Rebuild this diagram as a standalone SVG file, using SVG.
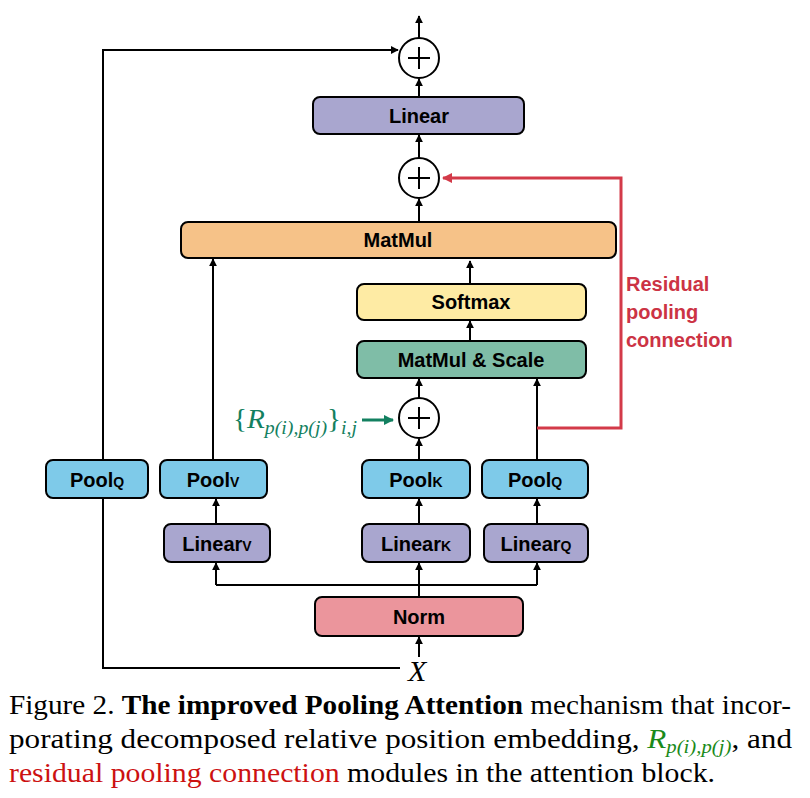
<svg xmlns="http://www.w3.org/2000/svg" width="810" height="798" viewBox="0 0 810 798">
<style>
.b{stroke:#000;stroke-width:2}
.t{font-family:"Liberation Sans",Arial,sans-serif;font-weight:bold;font-size:20px;text-anchor:middle}
.s{font-size:14px}
.l{stroke:#000;stroke-width:2;fill:none}
.c{fill:#fff;stroke:#000;stroke-width:2}
</style>
<defs>
<marker id="a" viewBox="0 0 10 10" refX="9" refY="5" markerWidth="4" markerHeight="4" orient="auto"><path d="M0,0L10,5L0,10z" fill="#000"/></marker>
<marker id="r" viewBox="0 0 10 10" refX="9" refY="5" markerWidth="3.5" markerHeight="3.5" orient="auto"><path d="M0,0L10,5L0,10z" fill="#d33a49"/></marker>
<marker id="g" viewBox="0 0 10 10" refX="9" refY="5" markerWidth="3.5" markerHeight="3.5" orient="auto"><path d="M0,0L10,5L0,10z" fill="#138060"/></marker>
</defs>
<g id="connectors">
<path class="l" d="M419,38V16" marker-end="url(#a)"/>
<path class="l" d="M419,97V79" marker-end="url(#a)"/>
<path class="l" d="M419,158V135" marker-end="url(#a)"/>
<path class="l" d="M419,222V199" marker-end="url(#a)"/>
<path class="l" d="M470,284V261" marker-end="url(#a)"/>
<path class="l" d="M470,341V321" marker-end="url(#a)"/>
<path class="l" d="M419,398V379" marker-end="url(#a)"/>
<path class="l" d="M419,460V439" marker-end="url(#a)"/>
<path class="l" d="M537,460V379" marker-end="url(#a)"/>
<path class="l" d="M213,460V259" marker-end="url(#a)"/>
<path class="l" d="M216,524V499" marker-end="url(#a)"/>
<path class="l" d="M419,524V499" marker-end="url(#a)"/>
<path class="l" d="M537,524V499" marker-end="url(#a)"/>
<path class="l" d="M419,597V585M216,585H537"/>
<path class="l" d="M216,585V563" marker-end="url(#a)"/>
<path class="l" d="M419,585V563" marker-end="url(#a)"/>
<path class="l" d="M537,585V563" marker-end="url(#a)"/>
<path class="l" d="M419,657V637" marker-end="url(#a)"/>
<path class="l" d="M400,668H103V498M103,460V50H398" marker-end="url(#a)"/>
<path d="M537,428H621V178H443" fill="none" stroke="#d33a49" stroke-width="3" marker-end="url(#r)"/>
<path d="M362,420H393" fill="none" stroke="#138060" stroke-width="3" marker-end="url(#g)"/>
</g>
<g id="sum1"><circle class="c" cx="419" cy="58" r="20"/><path class="l" d="M408,58H430M419,47V69"/></g>
<g id="linear"><rect class="b" x="313" y="97" width="211" height="37" rx="7" fill="#a9a6cf"/><text class="t" x="419" y="123">Linear</text></g>
<g id="sum2"><circle class="c" cx="419" cy="178" r="20"/><path class="l" d="M408,178H430M419,167V189"/></g>
<g id="matmul"><rect class="b" x="181" y="222" width="435" height="36" rx="7" fill="#f6c288"/><text class="t" x="398" y="247">MatMul</text></g>
<g id="softmax"><rect class="b" x="357" y="284" width="229" height="36" rx="7" fill="#feeba4"/><text class="t" x="471" y="309">Softmax</text></g>
<g id="mmscale"><rect class="b" x="357" y="341" width="229" height="37" rx="7" fill="#7fbda7"/><text class="t" x="471" y="367">MatMul &amp; Scale</text></g>
<g id="sum3"><circle class="c" cx="419" cy="418" r="20"/><path class="l" d="M408,418H430M419,407V429"/></g>
<g id="relpos"><text x="233" y="428" fill="#138060" font-family="Liberation Serif,serif" font-size="28" textLength="124" lengthAdjust="spacingAndGlyphs">{<tspan font-style="italic">R</tspan><tspan font-style="italic" font-size="19" dy="6">p(i),p(j)</tspan><tspan dy="-6">}</tspan><tspan font-style="italic" font-size="19" dy="6">i,j</tspan></text></g>
<g id="poolq1"><rect class="b" x="46" y="460" width="102" height="38" rx="7" fill="#7ecae9"/><text class="t" x="97" y="487">Pool<tspan class="s">Q</tspan></text></g>
<g id="poolv"><rect class="b" x="160" y="460" width="107" height="38" rx="7" fill="#7ecae9"/><text class="t" x="213" y="487">Pool<tspan class="s">V</tspan></text></g>
<g id="poolk"><rect class="b" x="362" y="460" width="108" height="38" rx="7" fill="#7ecae9"/><text class="t" x="416" y="487">Pool<tspan class="s">K</tspan></text></g>
<g id="poolq2"><rect class="b" x="482" y="460" width="106" height="38" rx="7" fill="#7ecae9"/><text class="t" x="535" y="487">Pool<tspan class="s">Q</tspan></text></g>
<g id="linv"><rect class="b" x="164" y="524" width="106" height="38" rx="7" fill="#a9a6cf"/><text class="t" x="217" y="551">Linear<tspan class="s">V</tspan></text></g>
<g id="link"><rect class="b" x="362" y="524" width="108" height="38" rx="7" fill="#a9a6cf"/><text class="t" x="416" y="551">Linear<tspan class="s">K</tspan></text></g>
<g id="linq"><rect class="b" x="484" y="524" width="104" height="38" rx="7" fill="#a9a6cf"/><text class="t" x="536" y="551">Linear<tspan class="s">Q</tspan></text></g>
<g id="norm"><rect class="b" x="315" y="597" width="208" height="39" rx="7" fill="#eb959c"/><text class="t" x="419" y="624">Norm</text></g>
<g id="x"><text x="408" y="681" font-family="Liberation Serif,serif" font-style="italic" font-size="30">X</text></g>
<g id="label"><text class="t" x="626" y="291" fill="#cc3344" style="text-anchor:start">Residual</text><text class="t" x="626" y="319" fill="#cc3344" style="text-anchor:start">pooling</text><text class="t" x="626" y="347" fill="#cc3344" style="text-anchor:start">connection</text></g>
<g id="caption" font-family="Liberation Serif,Times New Roman,serif" font-size="27">
<text x="9" y="714" textLength="782" lengthAdjust="spacingAndGlyphs">Figure 2. <tspan font-weight="bold">The improved Pooling Attention</tspan> mechanism that incor-</text>
<text x="9" y="748" textLength="783" lengthAdjust="spacingAndGlyphs">porating decomposed relative position embedding, <tspan fill="#1a8a1a" font-style="italic">R</tspan><tspan fill="#1a8a1a" font-style="italic" font-size="18" dy="5">p(i),p(j)</tspan><tspan dy="-5">, and</tspan></text>
<text x="9" y="782" textLength="706" lengthAdjust="spacingAndGlyphs"><tspan fill="#cc1111">residual pooling connection</tspan> modules in the attention block.</text>
</g>
</svg>
